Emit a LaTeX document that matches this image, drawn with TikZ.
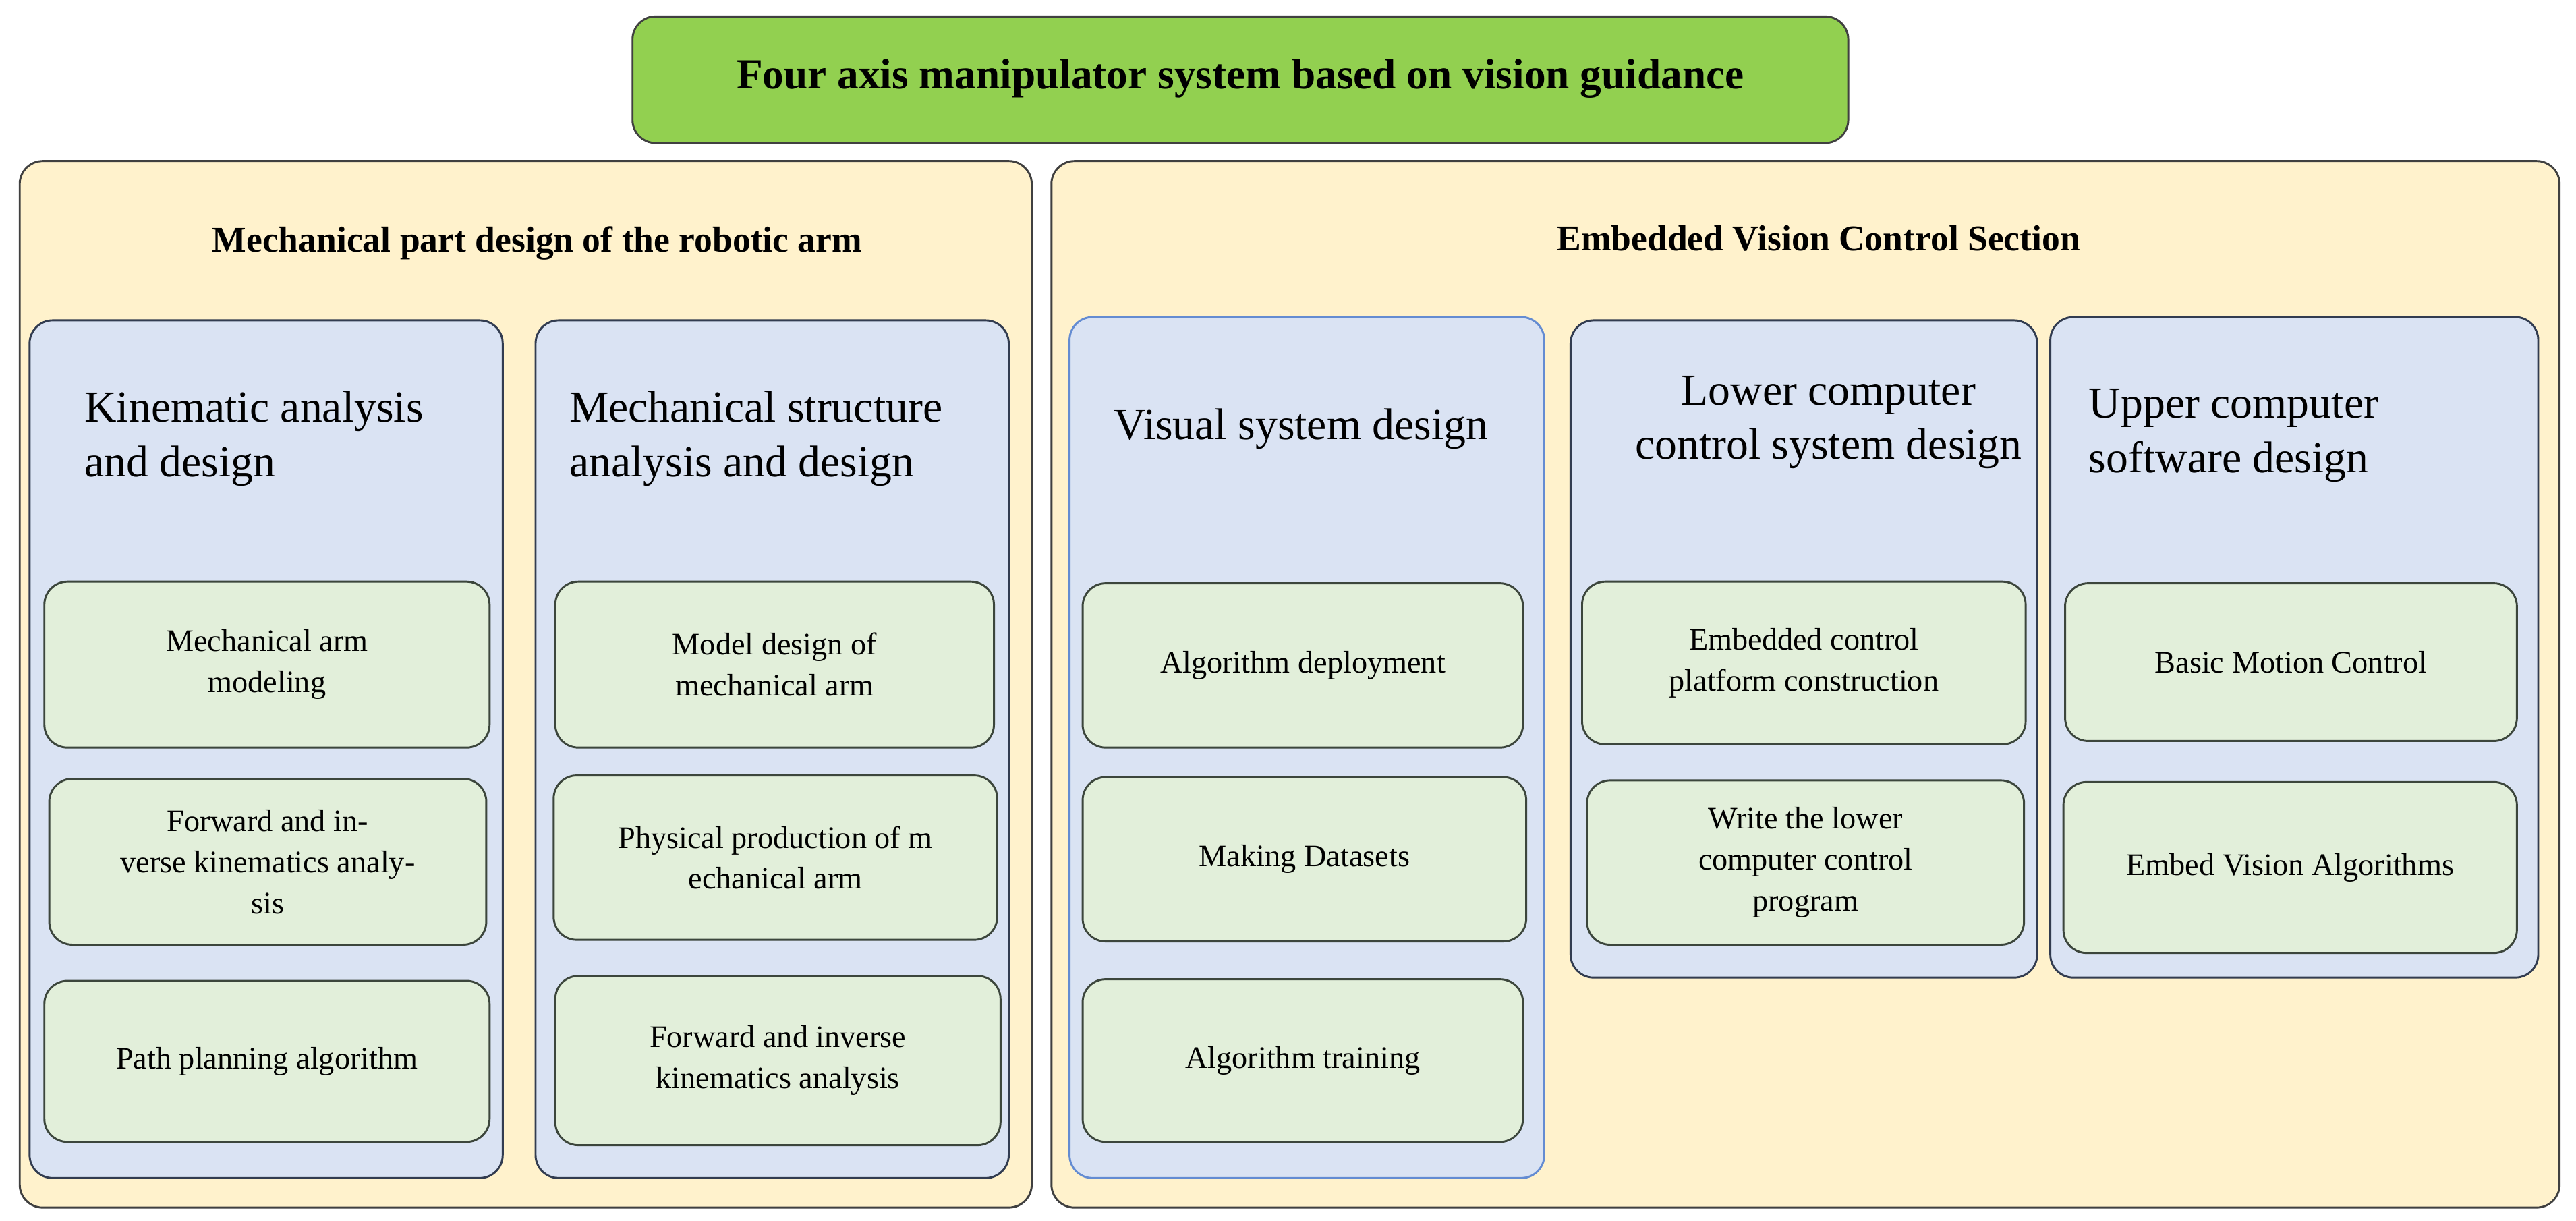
\documentclass[tikz,border=0pt]{standalone}
\usepackage{fontspec}
\setmainfont{Liberation Serif}
\begin{document}
\begin{tikzpicture}[x=1pt,y=-1pt,
 bx/.style={draw=black!75,line width=1.2pt,rounded corners=14pt},
 panel/.style={bx,fill=yellow!20!orange!15!white,fill={rgb,255:red,255;green,242;blue,204}},
 col/.style={bx,fill={rgb,255:red,218;green,227;blue,243},draw={rgb,255:red,50;green,60;blue,80}},
 item/.style={bx,fill={rgb,255:red,226;green,239;blue,218},draw={rgb,255:red,60;green,70;blue,60}},
 it/.style={font=\fontsize{19}{25}\selectfont,align=center},
 hd/.style={font=\fontsize{27}{33}\selectfont,align=left},
 sh/.style={font=\bfseries\fontsize{22}{26}\selectfont}]
\useasboundingbox (0,0) rectangle (1568,743);
\fill[white] (0,0) rectangle (1568,743);
\draw[bx,fill={rgb,255:red,146;green,208;blue,80}] (385,10) rectangle (1125,87);
\node[font=\bfseries\fontsize{26}{30}\selectfont] (title) at (755,48) {Four axis manipulator system based on vision guidance};
\draw[panel] (12,98) rectangle (628,735);
\draw[panel] (640,98) rectangle (1558,735);
\node[sh] (lh) at (327,148) {Mechanical part design of the robotic arm};
\node[sh] (rh) at (1107,145) {Embedded Vision Control Section};
\draw[col] (18,195) rectangle (306,717);
\draw[col] (326,195) rectangle (614,717);
\draw[col,draw={rgb,255:red,100;green,140;blue,210}] (651,193) rectangle (940,717);
\draw[col] (956,195) rectangle (1240,595);
\draw[col] (1248,193) rectangle (1545,595);
\node[hd,anchor=west] (h1) at (48,267) {Kinematic analysis\\and design};
\node[hd,anchor=west] (h2) at (343,267) {Mechanical structure\\analysis and design};
\node[hd] (h3) at (792,261) {Visual system design};
\node[hd,align=center] (h4) at (1113,257) {Lower computer\\control system design};
\node[hd,anchor=west] (h5) at (1268,265) {Upper computer\\software design};
\foreach \n/\a/\b/\c/\d/\t in {
 a1/27/354/298/455/{Mechanical arm\\modeling},
 a2/30/474/296/575/{Forward and in-\\verse kinematics analy-\\sis},
 a3/27/597/298/695/{Path planning algorithm},
 b1/338/354/605/455/{Model design of\\mechanical arm},
 b2/337/472/607/572/{Physical production of m\\echanical arm},
 b3/338/594/609/697/{Forward and inverse\\kinematics analysis},
 c1/659/355/927/455/{Algorithm deployment},
 c2/659/473/929/573/{Making Datasets},
 c3/659/596/927/695/{Algorithm training},
 d1/963/354/1233/453/{Embedded control\\platform construction},
 d2/966/475/1232/575/{Write the lower\\computer control\\program},
 e1/1257/355/1532/451/{Basic Motion Control},
 e2/1256/476/1532/580/{Embed Vision Algorithms}}{
 \draw[item] (\a,\b) rectangle (\c,\d);
 \node[it] (\n) at ({(\a+\c)/2},{(\b+\d)/2}) {\t};
}
\end{tikzpicture}
\end{document}
